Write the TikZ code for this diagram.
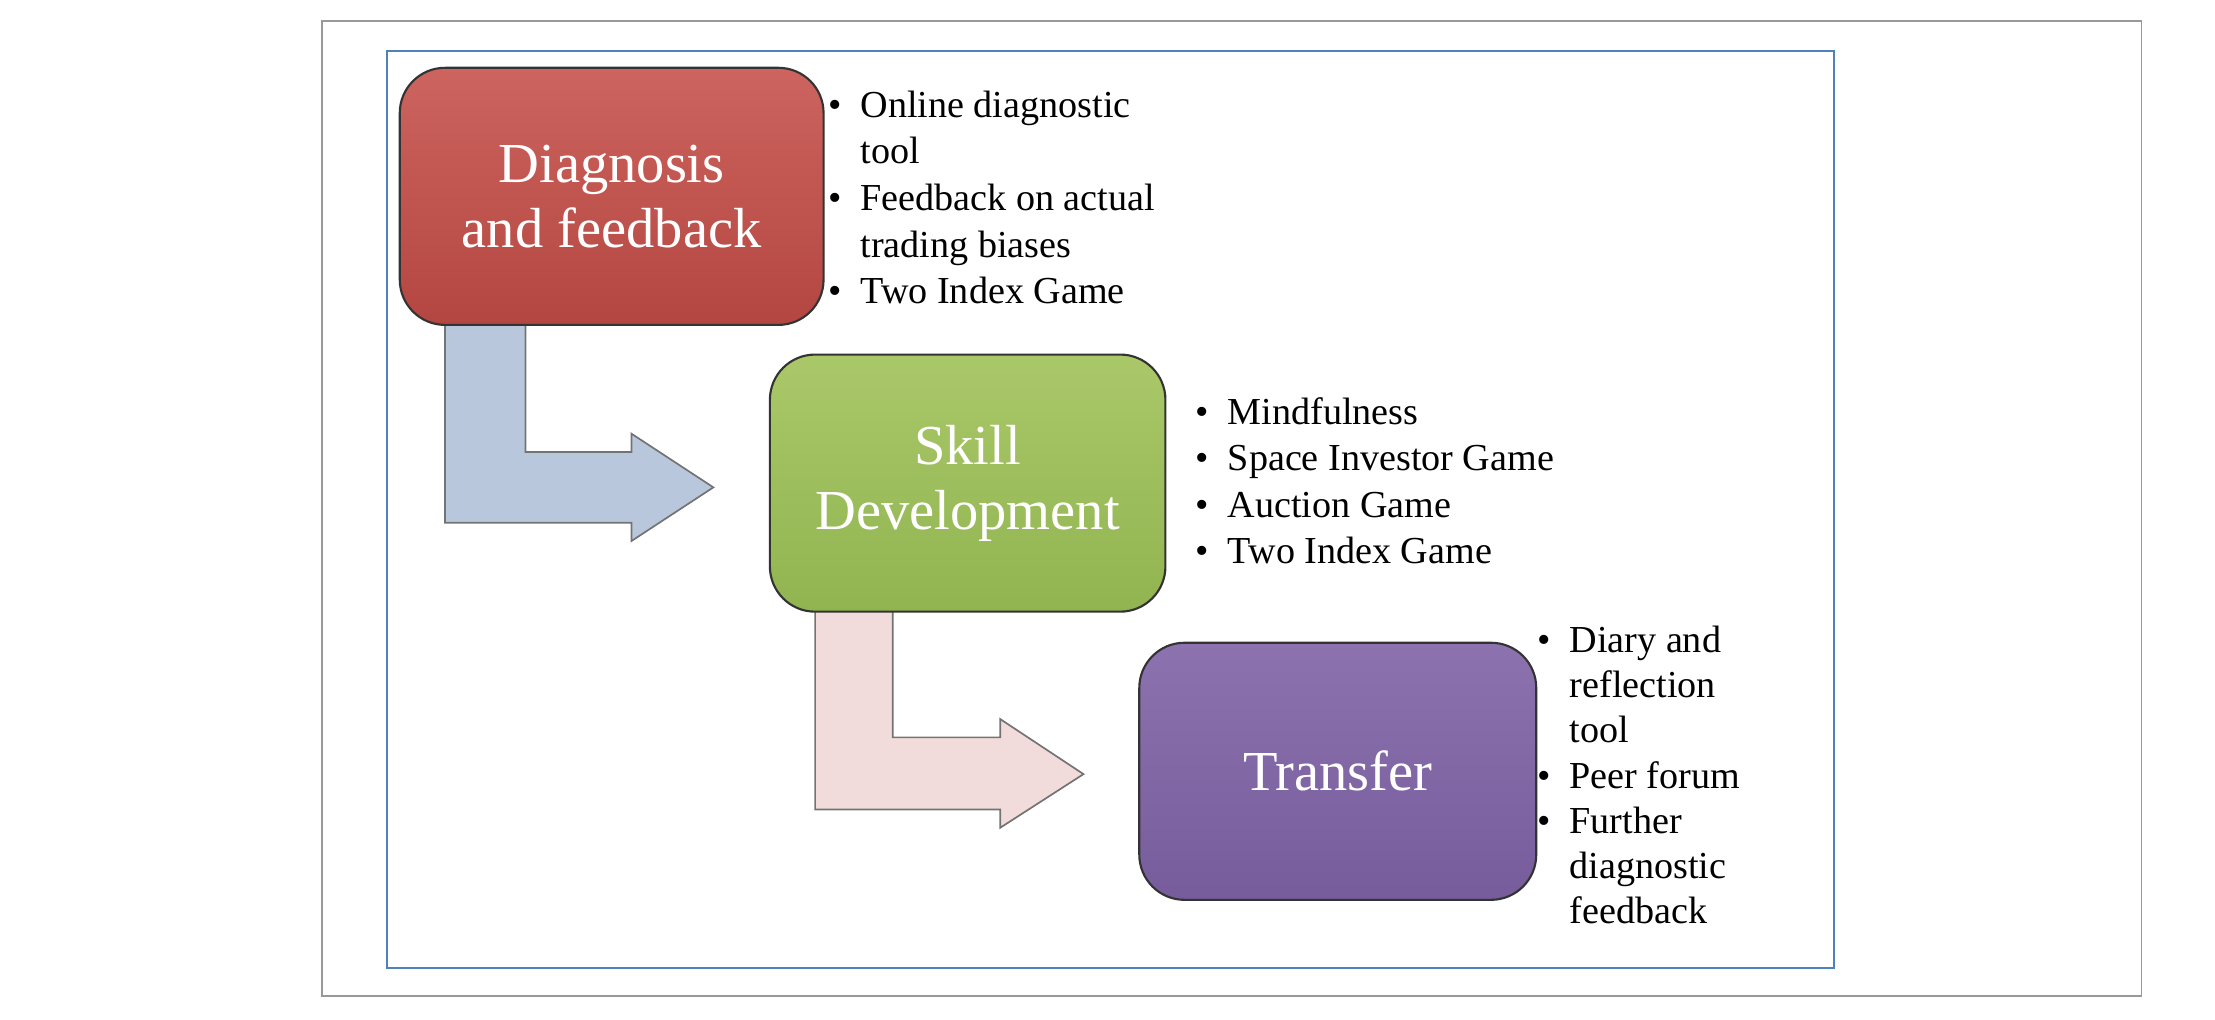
\documentclass[tikz,border=0pt]{standalone}
\usepackage{fontspec}
\setmainfont{Liberation Serif}
\definecolor{frameblue}{RGB}{79,129,189}
\begin{document}
\begin{tikzpicture}[x=1pt,y=-1pt,
  box/.style={draw=black!80,line width=1.5pt,rounded corners=32pt,minimum width=300pt,minimum height=182pt,text=white,font=\fontsize{40}{46}\selectfont,align=center,inner sep=0pt},
  barrow/.style={draw=black!55,line width=1.2pt},
  lst/.style={anchor=north west,font=\fontsize{27}{33}\selectfont,align=left,inner sep=0pt},
]
\useasboundingbox (0,0) rectangle (1568,721.4);
\draw[black!40,line width=1.2pt] (228,15) rectangle (1516,705);
\draw[draw=frameblue,line width=1.5pt] (274,36) rectangle (1298,685);
% arrows
\draw[barrow,fill={rgb,255:red,185;green,199;blue,221}] (315,228)--(372,228)--(372,320)--(447,320)--(447,307)--(505,345)--(447,383)--(447,370)--(315,370)--cycle;
\draw[barrow,fill={rgb,255:red,242;green,220;blue,219}] (577,430)--(632,430)--(632,522)--(708,522)--(708,509)--(767,548)--(708,586)--(708,573)--(577,573)--cycle;
% boxes
\node[box,top color={rgb,255:red,205;green,100;blue,95},bottom color={rgb,255:red,180;green,70;blue,65}] (diag) at (433,139) {Diagnosis\\and feedback};
\node[box,minimum width=280pt,top color={rgb,255:red,170;green,200;blue,105},bottom color={rgb,255:red,145;green,180;blue,80}] (skill) at (685,342) {Skill\\Development};
\node[box,minimum width=281pt,top color={rgb,255:red,140;green,115;blue,175},bottom color={rgb,255:red,118;green,92;blue,155}] (trans) at (947,546) {Transfer};
% lists
\node[lst] (l1) at (586,64) {\textbullet\ \ Online diagnostic\\\phantom{\textbullet\ \ }tool\\\textbullet\ \ Feedback on actual\\\phantom{\textbullet\ \ }trading biases\\\textbullet\ \ Two Index Game};
\node[lst] (l2) at (846,281) {\textbullet\ \ Mindfulness\\\textbullet\ \ Space Investor Game\\\textbullet\ \ Auction Game\\\textbullet\ \ Two Index Game};
\node[lst,font=\fontsize{27}{32}\selectfont] (l3) at (1088,443) {\textbullet\ \ Diary and\\\phantom{\textbullet\ \ }reflection\\\phantom{\textbullet\ \ }tool\\\textbullet\ \ Peer forum\\\textbullet\ \ Further\\\phantom{\textbullet\ \ }diagnostic\\\phantom{\textbullet\ \ }feedback};
\end{tikzpicture}
\end{document}
